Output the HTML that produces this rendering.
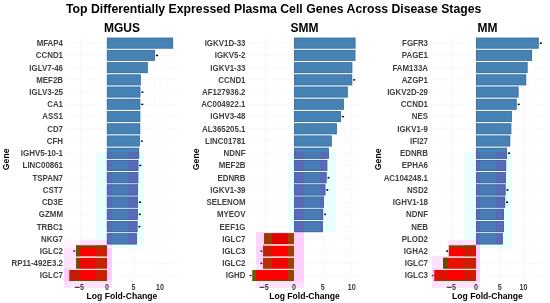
<!DOCTYPE html><html><head><meta charset="utf-8"><style>html,body{margin:0;padding:0;background:#fff;overflow:hidden}svg{display:block;filter:blur(0.3px)}text{font-family:"Liberation Sans",Arial,sans-serif}</style></head><body>
<svg width="550" height="303" viewBox="0 0 550 303">
<rect width="550" height="303" fill="#fff"/>
<text transform="translate(273.7 13)" font-size="12.25" font-weight="bold" text-anchor="middle" fill="#000">Top Differentially Expressed Plasma Cell Genes Across Disease Stages</text>
<line x1="67.15" y1="35.81" x2="67.15" y2="282.86" stroke="#fbfbfb" stroke-width="0.6"/>
<line x1="93.65" y1="35.81" x2="93.65" y2="282.86" stroke="#fbfbfb" stroke-width="0.6"/>
<line x1="120.15" y1="35.81" x2="120.15" y2="282.86" stroke="#fbfbfb" stroke-width="0.6"/>
<line x1="146.65" y1="35.81" x2="146.65" y2="282.86" stroke="#fbfbfb" stroke-width="0.6"/>
<line x1="173.15" y1="35.81" x2="173.15" y2="282.86" stroke="#fbfbfb" stroke-width="0.6"/>
<line x1="80.4" y1="35.81" x2="80.4" y2="282.86" stroke="#f8f8f8" stroke-width="1"/>
<line x1="106.9" y1="35.81" x2="106.9" y2="282.86" stroke="#f8f8f8" stroke-width="1"/>
<line x1="133.4" y1="35.81" x2="133.4" y2="282.86" stroke="#f8f8f8" stroke-width="1"/>
<line x1="159.9" y1="35.81" x2="159.9" y2="282.86" stroke="#f8f8f8" stroke-width="1"/>
<line x1="65.5" y1="43.15" x2="178.3" y2="43.15" stroke="#f8f8f8" stroke-width="1"/>
<line x1="65.5" y1="55.38" x2="178.3" y2="55.38" stroke="#f8f8f8" stroke-width="1"/>
<line x1="65.5" y1="67.61" x2="178.3" y2="67.61" stroke="#f8f8f8" stroke-width="1"/>
<line x1="65.5" y1="79.84" x2="178.3" y2="79.84" stroke="#f8f8f8" stroke-width="1"/>
<line x1="65.5" y1="92.07" x2="178.3" y2="92.07" stroke="#f8f8f8" stroke-width="1"/>
<line x1="65.5" y1="104.3" x2="178.3" y2="104.3" stroke="#f8f8f8" stroke-width="1"/>
<line x1="65.5" y1="116.53" x2="178.3" y2="116.53" stroke="#f8f8f8" stroke-width="1"/>
<line x1="65.5" y1="128.76" x2="178.3" y2="128.76" stroke="#f8f8f8" stroke-width="1"/>
<line x1="65.5" y1="140.99" x2="178.3" y2="140.99" stroke="#f8f8f8" stroke-width="1"/>
<line x1="65.5" y1="153.22" x2="178.3" y2="153.22" stroke="#f8f8f8" stroke-width="1"/>
<line x1="65.5" y1="165.45" x2="178.3" y2="165.45" stroke="#f8f8f8" stroke-width="1"/>
<line x1="65.5" y1="177.68" x2="178.3" y2="177.68" stroke="#f8f8f8" stroke-width="1"/>
<line x1="65.5" y1="189.91" x2="178.3" y2="189.91" stroke="#f8f8f8" stroke-width="1"/>
<line x1="65.5" y1="202.14" x2="178.3" y2="202.14" stroke="#f8f8f8" stroke-width="1"/>
<line x1="65.5" y1="214.37" x2="178.3" y2="214.37" stroke="#f8f8f8" stroke-width="1"/>
<line x1="65.5" y1="226.6" x2="178.3" y2="226.6" stroke="#f8f8f8" stroke-width="1"/>
<line x1="65.5" y1="238.83" x2="178.3" y2="238.83" stroke="#f8f8f8" stroke-width="1"/>
<line x1="65.5" y1="251.06" x2="178.3" y2="251.06" stroke="#f8f8f8" stroke-width="1"/>
<line x1="65.5" y1="263.29" x2="178.3" y2="263.29" stroke="#f8f8f8" stroke-width="1"/>
<line x1="65.5" y1="275.52" x2="178.3" y2="275.52" stroke="#f8f8f8" stroke-width="1"/>
<rect x="96" y="152" width="48" height="88" fill="#e9ffff"/>
<rect x="112" y="240" width="32" height="8" fill="#ecffff"/>
<rect x="80" y="240" width="32" height="8" fill="#ffe0ff"/>
<rect x="64" y="240" width="16" height="8" fill="#fff4ff"/>
<rect x="64" y="248" width="48" height="40" fill="#ffe2ff"/>
<rect x="107" y="248" width="5" height="34" fill="#ffccff"/>
<rect x="64" y="268" width="6" height="14" fill="#ffccff"/>
<rect x="106.9" y="37.65" width="66.2" height="11" fill="#4682b4"/>
<rect x="107.3" y="38.05" width="65.4" height="10.2" fill="none" stroke="#1f4f7f" stroke-opacity="0.3" stroke-width="0.8"/>
<text transform="translate(63 46.05) scale(0.92 1)" font-size="8.6" font-weight="bold" text-anchor="end" fill="#404040">MFAP4</text>
<rect x="106.9" y="49.88" width="48.1" height="11" fill="#4682b4"/>
<ellipse cx="157" cy="55.38" rx="1.1" ry="0.85" fill="#000"/>
<rect x="107.3" y="50.28" width="47.3" height="10.2" fill="none" stroke="#1f4f7f" stroke-opacity="0.3" stroke-width="0.8"/>
<text transform="translate(63 58.28) scale(0.92 1)" font-size="8.6" font-weight="bold" text-anchor="end" fill="#404040">CCND1</text>
<rect x="106.9" y="62.11" width="40.9" height="11" fill="#4682b4"/>
<rect x="107.3" y="62.51" width="40.1" height="10.2" fill="none" stroke="#1f4f7f" stroke-opacity="0.3" stroke-width="0.8"/>
<text transform="translate(63 70.51) scale(0.92 1)" font-size="8.6" font-weight="bold" text-anchor="end" fill="#404040">IGLV7-46</text>
<rect x="106.9" y="74.34" width="33.9" height="11" fill="#4682b4"/>
<rect x="107.3" y="74.74" width="33.1" height="10.2" fill="none" stroke="#1f4f7f" stroke-opacity="0.3" stroke-width="0.8"/>
<text transform="translate(63 82.74) scale(0.92 1)" font-size="8.6" font-weight="bold" text-anchor="end" fill="#404040">MEF2B</text>
<rect x="106.9" y="86.57" width="33.5" height="11" fill="#4682b4"/>
<ellipse cx="142.4" cy="92.07" rx="1.1" ry="0.85" fill="#000"/>
<rect x="107.3" y="86.97" width="32.7" height="10.2" fill="none" stroke="#1f4f7f" stroke-opacity="0.3" stroke-width="0.8"/>
<text transform="translate(63 94.97) scale(0.92 1)" font-size="8.6" font-weight="bold" text-anchor="end" fill="#404040">IGLV3-25</text>
<rect x="106.9" y="98.8" width="33.4" height="11" fill="#4682b4"/>
<ellipse cx="142.3" cy="104.3" rx="1.1" ry="0.85" fill="#000"/>
<rect x="107.3" y="99.2" width="32.6" height="10.2" fill="none" stroke="#1f4f7f" stroke-opacity="0.3" stroke-width="0.8"/>
<text transform="translate(63 107.2) scale(0.92 1)" font-size="8.6" font-weight="bold" text-anchor="end" fill="#404040">CA1</text>
<rect x="106.9" y="111.03" width="33.4" height="11" fill="#4682b4"/>
<rect x="107.3" y="111.43" width="32.6" height="10.2" fill="none" stroke="#1f4f7f" stroke-opacity="0.3" stroke-width="0.8"/>
<text transform="translate(63 119.43) scale(0.92 1)" font-size="8.6" font-weight="bold" text-anchor="end" fill="#404040">ASS1</text>
<rect x="106.9" y="123.26" width="33.3" height="11" fill="#4682b4"/>
<rect x="107.3" y="123.66" width="32.5" height="10.2" fill="none" stroke="#1f4f7f" stroke-opacity="0.3" stroke-width="0.8"/>
<text transform="translate(63 131.66) scale(0.92 1)" font-size="8.6" font-weight="bold" text-anchor="end" fill="#404040">CD7</text>
<rect x="106.9" y="135.49" width="33" height="11" fill="#4682b4"/>
<ellipse cx="141.9" cy="140.99" rx="1.1" ry="0.85" fill="#000"/>
<rect x="107.3" y="135.89" width="32.2" height="10.2" fill="none" stroke="#1f4f7f" stroke-opacity="0.3" stroke-width="0.8"/>
<text transform="translate(63 143.89) scale(0.92 1)" font-size="8.6" font-weight="bold" text-anchor="end" fill="#404040">CFH</text>
<rect x="106.9" y="147.72" width="32.2" height="11" fill="#4682b4"/>
<rect x="106.9" y="152" width="5.1" height="6.72" fill="#586ab8"/>
<rect x="128" y="152" width="11.1" height="6.72" fill="#586ab8"/>
<rect x="112" y="152" width="16" height="6.72" fill="#4a7bb6"/>
<rect x="107.3" y="148.12" width="31.4" height="10.2" fill="none" stroke="#1f4f7f" stroke-opacity="0.3" stroke-width="0.8"/>
<text transform="translate(63 156.12) scale(0.92 1)" font-size="8.6" font-weight="bold" text-anchor="end" fill="#404040">IGHV5-10-1</text>
<rect x="106.9" y="159.95" width="31.4" height="11" fill="#4682b4"/>
<ellipse cx="140.3" cy="165.45" rx="1.1" ry="0.85" fill="#000"/>
<rect x="106.9" y="159.95" width="5.1" height="11" fill="#586ab8"/>
<rect x="128" y="159.95" width="10.3" height="11" fill="#586ab8"/>
<rect x="112" y="159.95" width="16" height="11" fill="#4a7bb6"/>
<rect x="107.3" y="160.35" width="30.6" height="10.2" fill="none" stroke="#1f4f7f" stroke-opacity="0.3" stroke-width="0.8"/>
<text transform="translate(63 168.35) scale(0.92 1)" font-size="8.6" font-weight="bold" text-anchor="end" fill="#404040">LINC00861</text>
<rect x="106.9" y="172.18" width="31.3" height="11" fill="#4682b4"/>
<rect x="106.9" y="172.18" width="5.1" height="11" fill="#586ab8"/>
<rect x="128" y="172.18" width="10.2" height="11" fill="#586ab8"/>
<rect x="112" y="172.18" width="16" height="11" fill="#4a7bb6"/>
<rect x="107.3" y="172.58" width="30.5" height="10.2" fill="none" stroke="#1f4f7f" stroke-opacity="0.3" stroke-width="0.8"/>
<text transform="translate(63 180.58) scale(0.92 1)" font-size="8.6" font-weight="bold" text-anchor="end" fill="#404040">TSPAN7</text>
<rect x="106.9" y="184.41" width="31" height="11" fill="#4682b4"/>
<rect x="106.9" y="184.41" width="5.1" height="11" fill="#586ab8"/>
<rect x="128" y="184.41" width="9.9" height="11" fill="#586ab8"/>
<rect x="112" y="184.41" width="16" height="11" fill="#4a7bb6"/>
<rect x="107.3" y="184.81" width="30.2" height="10.2" fill="none" stroke="#1f4f7f" stroke-opacity="0.3" stroke-width="0.8"/>
<text transform="translate(63 192.81) scale(0.92 1)" font-size="8.6" font-weight="bold" text-anchor="end" fill="#404040">CST7</text>
<rect x="106.9" y="196.64" width="31" height="11" fill="#4682b4"/>
<ellipse cx="139.9" cy="202.14" rx="1.1" ry="0.85" fill="#000"/>
<rect x="106.9" y="196.64" width="5.1" height="11" fill="#586ab8"/>
<rect x="128" y="196.64" width="9.9" height="11" fill="#586ab8"/>
<rect x="112" y="196.64" width="16" height="11" fill="#4a7bb6"/>
<rect x="107.3" y="197.04" width="30.2" height="10.2" fill="none" stroke="#1f4f7f" stroke-opacity="0.3" stroke-width="0.8"/>
<text transform="translate(63 205.04) scale(0.92 1)" font-size="8.6" font-weight="bold" text-anchor="end" fill="#404040">CD3E</text>
<rect x="106.9" y="208.87" width="30.9" height="11" fill="#4682b4"/>
<ellipse cx="139.8" cy="214.37" rx="1.1" ry="0.85" fill="#000"/>
<rect x="106.9" y="208.87" width="5.1" height="11" fill="#586ab8"/>
<rect x="128" y="208.87" width="9.8" height="11" fill="#586ab8"/>
<rect x="112" y="208.87" width="16" height="11" fill="#4a7bb6"/>
<rect x="107.3" y="209.27" width="30.1" height="10.2" fill="none" stroke="#1f4f7f" stroke-opacity="0.3" stroke-width="0.8"/>
<text transform="translate(63 217.27) scale(0.92 1)" font-size="8.6" font-weight="bold" text-anchor="end" fill="#404040">GZMM</text>
<rect x="106.9" y="221.1" width="30.5" height="11" fill="#4682b4"/>
<ellipse cx="139.4" cy="226.6" rx="1.1" ry="0.85" fill="#000"/>
<rect x="106.9" y="221.1" width="5.1" height="11" fill="#586ab8"/>
<rect x="128" y="221.1" width="9.4" height="11" fill="#586ab8"/>
<rect x="112" y="221.1" width="16" height="11" fill="#4a7bb6"/>
<rect x="107.3" y="221.5" width="29.7" height="10.2" fill="none" stroke="#1f4f7f" stroke-opacity="0.3" stroke-width="0.8"/>
<text transform="translate(63 229.5) scale(0.92 1)" font-size="8.6" font-weight="bold" text-anchor="end" fill="#404040">TRBC1</text>
<rect x="106.9" y="233.33" width="30" height="11" fill="#4682b4"/>
<rect x="106.9" y="233.33" width="5.1" height="11" fill="#586ab8"/>
<rect x="128" y="233.33" width="8.9" height="11" fill="#586ab8"/>
<rect x="112" y="233.33" width="16" height="11" fill="#4a7bb6"/>
<rect x="107.3" y="233.73" width="29.2" height="10.2" fill="none" stroke="#1f4f7f" stroke-opacity="0.3" stroke-width="0.8"/>
<text transform="translate(63 241.73) scale(0.92 1)" font-size="8.6" font-weight="bold" text-anchor="end" fill="#404040">NKG7</text>
<rect x="76" y="245.56" width="30.9" height="11" fill="#ff0000"/>
<ellipse cx="74.2" cy="251.06" rx="1.1" ry="0.85" fill="#5a0030"/>
<rect x="76" y="245.56" width="4" height="11" fill="#6f4c00"/>
<rect x="96" y="245.56" width="10.9" height="11" fill="#cc2000"/>
<rect x="76" y="245.56" width="30.9" height="2.04" fill="#6f4c00"/>
<text transform="translate(63 253.96) scale(0.92 1)" font-size="8.6" font-weight="bold" text-anchor="end" fill="#404040">IGLC2</text>
<rect x="76.3" y="257.79" width="30.6" height="11" fill="#ff0000"/>
<rect x="76.3" y="257.79" width="3.7" height="11" fill="#7a4400"/>
<rect x="80" y="257.79" width="16" height="11" fill="#ee0800"/>
<rect x="96" y="257.79" width="10.9" height="11" fill="#c42400"/>
<text transform="translate(63 266.19) scale(0.92 1)" font-size="8.6" font-weight="bold" text-anchor="end" fill="#404040">RP11-492E3.2</text>
<rect x="69.5" y="270.02" width="37.4" height="11" fill="#ff0000"/>
<rect x="69.5" y="270.02" width="10.5" height="11" fill="#c41c00"/>
<rect x="96" y="270.02" width="10.9" height="11" fill="#c82000"/>
<rect x="69.5" y="280" width="37.4" height="1.02" fill="#705000"/>
<text transform="translate(63 278.42) scale(0.92 1)" font-size="8.6" font-weight="bold" text-anchor="end" fill="#404040">IGLC7</text>
<rect x="76.3" y="256.56" width="30.6" height="1.23" fill="#ffe6dc"/>
<rect x="76.3" y="268.79" width="30.6" height="1.23" fill="#ffe6dc"/>
<text transform="translate(79.3 290) scale(0.86 1)" font-size="8.3" font-weight="bold" text-anchor="middle" fill="#3c3c3c"><tspan font-size="11.0" dy="0.8">−</tspan><tspan dy="-0.8">5</tspan></text>
<text transform="translate(106.9 290) scale(0.86 1)" font-size="8.3" font-weight="bold" text-anchor="middle" fill="#3c3c3c">0</text>
<text transform="translate(133.4 290) scale(0.86 1)" font-size="8.3" font-weight="bold" text-anchor="middle" fill="#3c3c3c">5</text>
<text transform="translate(159.9 290) scale(0.86 1)" font-size="8.3" font-weight="bold" text-anchor="middle" fill="#3c3c3c">10</text>
<text transform="translate(121.9 298.8)" font-size="8.6" font-weight="bold" text-anchor="middle" fill="#000">Log Fold-Change</text>
<text transform="translate(121.9 32.3)" font-size="12" font-weight="bold" text-anchor="middle" fill="#000">MGUS</text>
<text transform="translate(9.2 159.34) rotate(-90)" font-size="8.7" font-weight="bold" text-anchor="middle" fill="#000">Gene</text>
<line x1="250.72" y1="35.81" x2="250.72" y2="282.86" stroke="#fbfbfb" stroke-width="0.6"/>
<line x1="279.57" y1="35.81" x2="279.57" y2="282.86" stroke="#fbfbfb" stroke-width="0.6"/>
<line x1="308.43" y1="35.81" x2="308.43" y2="282.86" stroke="#fbfbfb" stroke-width="0.6"/>
<line x1="337.27" y1="35.81" x2="337.27" y2="282.86" stroke="#fbfbfb" stroke-width="0.6"/>
<line x1="265.15" y1="35.81" x2="265.15" y2="282.86" stroke="#f8f8f8" stroke-width="1"/>
<line x1="294" y1="35.81" x2="294" y2="282.86" stroke="#f8f8f8" stroke-width="1"/>
<line x1="322.85" y1="35.81" x2="322.85" y2="282.86" stroke="#f8f8f8" stroke-width="1"/>
<line x1="351.7" y1="35.81" x2="351.7" y2="282.86" stroke="#f8f8f8" stroke-width="1"/>
<line x1="247.5" y1="43.15" x2="361.5" y2="43.15" stroke="#f8f8f8" stroke-width="1"/>
<line x1="247.5" y1="55.38" x2="361.5" y2="55.38" stroke="#f8f8f8" stroke-width="1"/>
<line x1="247.5" y1="67.61" x2="361.5" y2="67.61" stroke="#f8f8f8" stroke-width="1"/>
<line x1="247.5" y1="79.84" x2="361.5" y2="79.84" stroke="#f8f8f8" stroke-width="1"/>
<line x1="247.5" y1="92.07" x2="361.5" y2="92.07" stroke="#f8f8f8" stroke-width="1"/>
<line x1="247.5" y1="104.3" x2="361.5" y2="104.3" stroke="#f8f8f8" stroke-width="1"/>
<line x1="247.5" y1="116.53" x2="361.5" y2="116.53" stroke="#f8f8f8" stroke-width="1"/>
<line x1="247.5" y1="128.76" x2="361.5" y2="128.76" stroke="#f8f8f8" stroke-width="1"/>
<line x1="247.5" y1="140.99" x2="361.5" y2="140.99" stroke="#f8f8f8" stroke-width="1"/>
<line x1="247.5" y1="153.22" x2="361.5" y2="153.22" stroke="#f8f8f8" stroke-width="1"/>
<line x1="247.5" y1="165.45" x2="361.5" y2="165.45" stroke="#f8f8f8" stroke-width="1"/>
<line x1="247.5" y1="177.68" x2="361.5" y2="177.68" stroke="#f8f8f8" stroke-width="1"/>
<line x1="247.5" y1="189.91" x2="361.5" y2="189.91" stroke="#f8f8f8" stroke-width="1"/>
<line x1="247.5" y1="202.14" x2="361.5" y2="202.14" stroke="#f8f8f8" stroke-width="1"/>
<line x1="247.5" y1="214.37" x2="361.5" y2="214.37" stroke="#f8f8f8" stroke-width="1"/>
<line x1="247.5" y1="226.6" x2="361.5" y2="226.6" stroke="#f8f8f8" stroke-width="1"/>
<line x1="247.5" y1="238.83" x2="361.5" y2="238.83" stroke="#f8f8f8" stroke-width="1"/>
<line x1="247.5" y1="251.06" x2="361.5" y2="251.06" stroke="#f8f8f8" stroke-width="1"/>
<line x1="247.5" y1="263.29" x2="361.5" y2="263.29" stroke="#f8f8f8" stroke-width="1"/>
<line x1="247.5" y1="275.52" x2="361.5" y2="275.52" stroke="#f8f8f8" stroke-width="1"/>
<rect x="288" y="152" width="48" height="80" fill="#e9ffff"/>
<rect x="256" y="232" width="48" height="56" fill="#ffe2ff"/>
<rect x="294" y="232" width="10" height="50" fill="#ffd0ff"/>
<rect x="256" y="232" width="8" height="32" fill="#ffd4ff"/>
<rect x="294" y="37.65" width="61.5" height="11" fill="#4682b4"/>
<rect x="294.4" y="38.05" width="60.7" height="10.2" fill="none" stroke="#1f4f7f" stroke-opacity="0.3" stroke-width="0.8"/>
<text transform="translate(245.5 46.05) scale(0.92 1)" font-size="8.6" font-weight="bold" text-anchor="end" fill="#404040">IGKV1D-33</text>
<rect x="294" y="49.88" width="61.4" height="11" fill="#4682b4"/>
<rect x="294.4" y="50.28" width="60.6" height="10.2" fill="none" stroke="#1f4f7f" stroke-opacity="0.3" stroke-width="0.8"/>
<text transform="translate(245.5 58.28) scale(0.92 1)" font-size="8.6" font-weight="bold" text-anchor="end" fill="#404040">IGKV5-2</text>
<rect x="294" y="62.11" width="58.3" height="11" fill="#4682b4"/>
<rect x="294.4" y="62.51" width="57.5" height="10.2" fill="none" stroke="#1f4f7f" stroke-opacity="0.3" stroke-width="0.8"/>
<text transform="translate(245.5 70.51) scale(0.92 1)" font-size="8.6" font-weight="bold" text-anchor="end" fill="#404040">IGKV1-33</text>
<rect x="294" y="74.34" width="58.2" height="11" fill="#4682b4"/>
<ellipse cx="354.2" cy="79.84" rx="1.1" ry="0.85" fill="#000"/>
<rect x="294.4" y="74.74" width="57.4" height="10.2" fill="none" stroke="#1f4f7f" stroke-opacity="0.3" stroke-width="0.8"/>
<text transform="translate(245.5 82.74) scale(0.92 1)" font-size="8.6" font-weight="bold" text-anchor="end" fill="#404040">CCND1</text>
<rect x="294" y="86.57" width="53.8" height="11" fill="#4682b4"/>
<rect x="294.4" y="86.97" width="53" height="10.2" fill="none" stroke="#1f4f7f" stroke-opacity="0.3" stroke-width="0.8"/>
<text transform="translate(245.5 94.97) scale(0.92 1)" font-size="8.6" font-weight="bold" text-anchor="end" fill="#404040">AF127936.2</text>
<rect x="294" y="98.8" width="49.9" height="11" fill="#4682b4"/>
<rect x="294.4" y="99.2" width="49.1" height="10.2" fill="none" stroke="#1f4f7f" stroke-opacity="0.3" stroke-width="0.8"/>
<text transform="translate(245.5 107.2) scale(0.92 1)" font-size="8.6" font-weight="bold" text-anchor="end" fill="#404040">AC004922.1</text>
<rect x="294" y="111.03" width="47" height="11" fill="#4682b4"/>
<ellipse cx="343" cy="116.53" rx="1.1" ry="0.85" fill="#000"/>
<rect x="294.4" y="111.43" width="46.2" height="10.2" fill="none" stroke="#1f4f7f" stroke-opacity="0.3" stroke-width="0.8"/>
<text transform="translate(245.5 119.43) scale(0.92 1)" font-size="8.6" font-weight="bold" text-anchor="end" fill="#404040">IGHV3-48</text>
<rect x="294" y="123.26" width="42.9" height="11" fill="#4682b4"/>
<rect x="294.4" y="123.66" width="42.1" height="10.2" fill="none" stroke="#1f4f7f" stroke-opacity="0.3" stroke-width="0.8"/>
<text transform="translate(245.5 131.66) scale(0.92 1)" font-size="8.6" font-weight="bold" text-anchor="end" fill="#404040">AL365205.1</text>
<rect x="294" y="135.49" width="37.8" height="11" fill="#4682b4"/>
<rect x="294.4" y="135.89" width="37" height="10.2" fill="none" stroke="#1f4f7f" stroke-opacity="0.3" stroke-width="0.8"/>
<text transform="translate(245.5 143.89) scale(0.92 1)" font-size="8.6" font-weight="bold" text-anchor="end" fill="#404040">LINC01781</text>
<rect x="294" y="147.72" width="34.9" height="11" fill="#4682b4"/>
<rect x="294" y="152" width="10" height="6.72" fill="#586ab8"/>
<rect x="320" y="152" width="8.9" height="6.72" fill="#586ab8"/>
<rect x="304" y="152" width="16" height="6.72" fill="#4a7bb6"/>
<rect x="294.4" y="148.12" width="34.1" height="10.2" fill="none" stroke="#1f4f7f" stroke-opacity="0.3" stroke-width="0.8"/>
<text transform="translate(245.5 156.12) scale(0.92 1)" font-size="8.6" font-weight="bold" text-anchor="end" fill="#404040">NDNF</text>
<rect x="294" y="159.95" width="33.2" height="11" fill="#4682b4"/>
<rect x="294" y="159.95" width="10" height="11" fill="#586ab8"/>
<rect x="320" y="159.95" width="7.2" height="11" fill="#586ab8"/>
<rect x="304" y="159.95" width="16" height="11" fill="#4a7bb6"/>
<rect x="294.4" y="160.35" width="32.4" height="10.2" fill="none" stroke="#1f4f7f" stroke-opacity="0.3" stroke-width="0.8"/>
<text transform="translate(245.5 168.35) scale(0.92 1)" font-size="8.6" font-weight="bold" text-anchor="end" fill="#404040">MEF2B</text>
<rect x="294" y="172.18" width="32.5" height="11" fill="#4682b4"/>
<ellipse cx="328.5" cy="177.68" rx="1.1" ry="0.85" fill="#000"/>
<rect x="294" y="172.18" width="10" height="11" fill="#586ab8"/>
<rect x="320" y="172.18" width="6.5" height="11" fill="#586ab8"/>
<rect x="304" y="172.18" width="16" height="11" fill="#4a7bb6"/>
<rect x="294.4" y="172.58" width="31.7" height="10.2" fill="none" stroke="#1f4f7f" stroke-opacity="0.3" stroke-width="0.8"/>
<text transform="translate(245.5 180.58) scale(0.92 1)" font-size="8.6" font-weight="bold" text-anchor="end" fill="#404040">EDNRB</text>
<rect x="294" y="184.41" width="31.3" height="11" fill="#4682b4"/>
<ellipse cx="327.3" cy="189.91" rx="1.1" ry="0.85" fill="#000"/>
<rect x="294" y="184.41" width="10" height="11" fill="#586ab8"/>
<rect x="320" y="184.41" width="5.3" height="11" fill="#586ab8"/>
<rect x="304" y="184.41" width="16" height="11" fill="#4a7bb6"/>
<rect x="294.4" y="184.81" width="30.5" height="10.2" fill="none" stroke="#1f4f7f" stroke-opacity="0.3" stroke-width="0.8"/>
<text transform="translate(245.5 192.81) scale(0.92 1)" font-size="8.6" font-weight="bold" text-anchor="end" fill="#404040">IGKV1-39</text>
<rect x="294" y="196.64" width="30" height="11" fill="#4682b4"/>
<rect x="294" y="196.64" width="10" height="11" fill="#586ab8"/>
<rect x="320" y="196.64" width="4" height="11" fill="#586ab8"/>
<rect x="304" y="196.64" width="16" height="11" fill="#4a7bb6"/>
<rect x="294.4" y="197.04" width="29.2" height="10.2" fill="none" stroke="#1f4f7f" stroke-opacity="0.3" stroke-width="0.8"/>
<text transform="translate(245.5 205.04) scale(0.92 1)" font-size="8.6" font-weight="bold" text-anchor="end" fill="#404040">SELENOM</text>
<rect x="294" y="208.87" width="29.1" height="11" fill="#4682b4"/>
<ellipse cx="325.1" cy="214.37" rx="1.1" ry="0.85" fill="#000"/>
<rect x="294" y="208.87" width="10" height="11" fill="#586ab8"/>
<rect x="320" y="208.87" width="3.1" height="11" fill="#586ab8"/>
<rect x="304" y="208.87" width="16" height="11" fill="#4a7bb6"/>
<rect x="294.4" y="209.27" width="28.3" height="10.2" fill="none" stroke="#1f4f7f" stroke-opacity="0.3" stroke-width="0.8"/>
<text transform="translate(245.5 217.27) scale(0.92 1)" font-size="8.6" font-weight="bold" text-anchor="end" fill="#404040">MYEOV</text>
<rect x="294" y="221.1" width="28.8" height="11" fill="#4682b4"/>
<rect x="294" y="221.1" width="10" height="11" fill="#586ab8"/>
<rect x="320" y="221.1" width="2.8" height="11" fill="#586ab8"/>
<rect x="304" y="221.1" width="16" height="11" fill="#4a7bb6"/>
<rect x="294.4" y="221.5" width="28" height="10.2" fill="none" stroke="#1f4f7f" stroke-opacity="0.3" stroke-width="0.8"/>
<text transform="translate(245.5 229.5) scale(0.92 1)" font-size="8.6" font-weight="bold" text-anchor="end" fill="#404040">EEF1G</text>
<rect x="264.2" y="233.33" width="29.8" height="11" fill="#ff0000"/>
<rect x="264.2" y="233.33" width="7.8" height="11" fill="#9a3a00"/>
<rect x="272" y="233.33" width="16" height="11" fill="#e00400"/>
<rect x="288" y="233.33" width="6" height="11" fill="#9a4000"/>
<text transform="translate(245.5 241.73) scale(0.92 1)" font-size="8.6" font-weight="bold" text-anchor="end" fill="#404040">IGLC7</text>
<rect x="263.2" y="245.56" width="30.8" height="11" fill="#ff0000"/>
<ellipse cx="261.4" cy="251.06" rx="1.1" ry="0.85" fill="#5a0030"/>
<rect x="263.2" y="245.56" width="8.8" height="11" fill="#c02000"/>
<rect x="288" y="245.56" width="6" height="11" fill="#a04000"/>
<text transform="translate(245.5 253.96) scale(0.92 1)" font-size="8.6" font-weight="bold" text-anchor="end" fill="#404040">IGLC3</text>
<rect x="263.2" y="257.79" width="30.8" height="11" fill="#ff0000"/>
<ellipse cx="261.4" cy="263.29" rx="1.1" ry="0.85" fill="#5a0030"/>
<rect x="263.2" y="257.79" width="8.8" height="11" fill="#b83000"/>
<rect x="272" y="257.79" width="16" height="11" fill="#f40000"/>
<rect x="288" y="257.79" width="6" height="11" fill="#a04000"/>
<text transform="translate(245.5 266.19) scale(0.92 1)" font-size="8.6" font-weight="bold" text-anchor="end" fill="#404040">IGLC2</text>
<rect x="252.5" y="270.02" width="41.5" height="11" fill="#ff0000"/>
<ellipse cx="250.7" cy="275.52" rx="1.1" ry="0.85" fill="#5a0030"/>
<rect x="252.5" y="270.02" width="3.5" height="11" fill="#606000"/>
<rect x="288" y="270.02" width="6" height="11" fill="#9a4000"/>
<rect x="252.5" y="279.9" width="41.5" height="1.12" fill="#705000"/>
<text transform="translate(245.5 278.42) scale(0.92 1)" font-size="8.6" font-weight="bold" text-anchor="end" fill="#404040">IGHD</text>
<rect x="264.2" y="244.33" width="29.8" height="1.23" fill="#ffe6dc"/>
<rect x="263.2" y="256.56" width="30.8" height="1.23" fill="#ffe6dc"/>
<rect x="263.2" y="268.79" width="30.8" height="1.23" fill="#ffe6dc"/>
<text transform="translate(264.05 290) scale(0.86 1)" font-size="8.3" font-weight="bold" text-anchor="middle" fill="#3c3c3c"><tspan font-size="11.0" dy="0.8">−</tspan><tspan dy="-0.8">5</tspan></text>
<text transform="translate(294 290) scale(0.86 1)" font-size="8.3" font-weight="bold" text-anchor="middle" fill="#3c3c3c">0</text>
<text transform="translate(322.85 290) scale(0.86 1)" font-size="8.3" font-weight="bold" text-anchor="middle" fill="#3c3c3c">5</text>
<text transform="translate(351.7 290) scale(0.86 1)" font-size="8.3" font-weight="bold" text-anchor="middle" fill="#3c3c3c">10</text>
<text transform="translate(304.5 298.8)" font-size="8.6" font-weight="bold" text-anchor="middle" fill="#000">Log Fold-Change</text>
<text transform="translate(304.5 32.3)" font-size="12" font-weight="bold" text-anchor="middle" fill="#000">SMM</text>
<text transform="translate(198.6 159.34) rotate(-90)" font-size="8.7" font-weight="bold" text-anchor="middle" fill="#000">Gene</text>
<line x1="440.38" y1="35.81" x2="440.38" y2="282.86" stroke="#fbfbfb" stroke-width="0.6"/>
<line x1="464.12" y1="35.81" x2="464.12" y2="282.86" stroke="#fbfbfb" stroke-width="0.6"/>
<line x1="487.88" y1="35.81" x2="487.88" y2="282.86" stroke="#fbfbfb" stroke-width="0.6"/>
<line x1="511.62" y1="35.81" x2="511.62" y2="282.86" stroke="#fbfbfb" stroke-width="0.6"/>
<line x1="535.38" y1="35.81" x2="535.38" y2="282.86" stroke="#fbfbfb" stroke-width="0.6"/>
<line x1="452.25" y1="35.81" x2="452.25" y2="282.86" stroke="#f8f8f8" stroke-width="1"/>
<line x1="476" y1="35.81" x2="476" y2="282.86" stroke="#f8f8f8" stroke-width="1"/>
<line x1="499.75" y1="35.81" x2="499.75" y2="282.86" stroke="#f8f8f8" stroke-width="1"/>
<line x1="523.5" y1="35.81" x2="523.5" y2="282.86" stroke="#f8f8f8" stroke-width="1"/>
<line x1="430.5" y1="43.15" x2="544.3" y2="43.15" stroke="#f8f8f8" stroke-width="1"/>
<line x1="430.5" y1="55.38" x2="544.3" y2="55.38" stroke="#f8f8f8" stroke-width="1"/>
<line x1="430.5" y1="67.61" x2="544.3" y2="67.61" stroke="#f8f8f8" stroke-width="1"/>
<line x1="430.5" y1="79.84" x2="544.3" y2="79.84" stroke="#f8f8f8" stroke-width="1"/>
<line x1="430.5" y1="92.07" x2="544.3" y2="92.07" stroke="#f8f8f8" stroke-width="1"/>
<line x1="430.5" y1="104.3" x2="544.3" y2="104.3" stroke="#f8f8f8" stroke-width="1"/>
<line x1="430.5" y1="116.53" x2="544.3" y2="116.53" stroke="#f8f8f8" stroke-width="1"/>
<line x1="430.5" y1="128.76" x2="544.3" y2="128.76" stroke="#f8f8f8" stroke-width="1"/>
<line x1="430.5" y1="140.99" x2="544.3" y2="140.99" stroke="#f8f8f8" stroke-width="1"/>
<line x1="430.5" y1="153.22" x2="544.3" y2="153.22" stroke="#f8f8f8" stroke-width="1"/>
<line x1="430.5" y1="165.45" x2="544.3" y2="165.45" stroke="#f8f8f8" stroke-width="1"/>
<line x1="430.5" y1="177.68" x2="544.3" y2="177.68" stroke="#f8f8f8" stroke-width="1"/>
<line x1="430.5" y1="189.91" x2="544.3" y2="189.91" stroke="#f8f8f8" stroke-width="1"/>
<line x1="430.5" y1="202.14" x2="544.3" y2="202.14" stroke="#f8f8f8" stroke-width="1"/>
<line x1="430.5" y1="214.37" x2="544.3" y2="214.37" stroke="#f8f8f8" stroke-width="1"/>
<line x1="430.5" y1="226.6" x2="544.3" y2="226.6" stroke="#f8f8f8" stroke-width="1"/>
<line x1="430.5" y1="238.83" x2="544.3" y2="238.83" stroke="#f8f8f8" stroke-width="1"/>
<line x1="430.5" y1="251.06" x2="544.3" y2="251.06" stroke="#f8f8f8" stroke-width="1"/>
<line x1="430.5" y1="263.29" x2="544.3" y2="263.29" stroke="#f8f8f8" stroke-width="1"/>
<line x1="430.5" y1="275.52" x2="544.3" y2="275.52" stroke="#f8f8f8" stroke-width="1"/>
<rect x="464" y="152" width="48" height="88" fill="#e9ffff"/>
<rect x="480" y="240" width="32" height="8" fill="#ecffff"/>
<rect x="448" y="240" width="32" height="16" fill="#ffe2ff"/>
<rect x="432" y="256" width="48" height="32" fill="#ffe2ff"/>
<rect x="476" y="244" width="4" height="38" fill="#ffccff"/>
<rect x="432" y="268" width="4" height="14" fill="#ffd0ff"/>
<rect x="476" y="37.65" width="62.8" height="11" fill="#4682b4"/>
<ellipse cx="540.8" cy="43.15" rx="1.1" ry="0.85" fill="#000"/>
<rect x="476.4" y="38.05" width="62" height="10.2" fill="none" stroke="#1f4f7f" stroke-opacity="0.3" stroke-width="0.8"/>
<text transform="translate(428 46.05) scale(0.92 1)" font-size="8.6" font-weight="bold" text-anchor="end" fill="#404040">FGFR3</text>
<rect x="476" y="49.88" width="56" height="11" fill="#4682b4"/>
<rect x="476.4" y="50.28" width="55.2" height="10.2" fill="none" stroke="#1f4f7f" stroke-opacity="0.3" stroke-width="0.8"/>
<text transform="translate(428 58.28) scale(0.92 1)" font-size="8.6" font-weight="bold" text-anchor="end" fill="#404040">PAGE1</text>
<rect x="476" y="62.11" width="51.6" height="11" fill="#4682b4"/>
<rect x="476.4" y="62.51" width="50.8" height="10.2" fill="none" stroke="#1f4f7f" stroke-opacity="0.3" stroke-width="0.8"/>
<text transform="translate(428 70.51) scale(0.92 1)" font-size="8.6" font-weight="bold" text-anchor="end" fill="#404040">FAM133A</text>
<rect x="476" y="74.34" width="50.2" height="11" fill="#4682b4"/>
<rect x="476.4" y="74.74" width="49.4" height="10.2" fill="none" stroke="#1f4f7f" stroke-opacity="0.3" stroke-width="0.8"/>
<text transform="translate(428 82.74) scale(0.92 1)" font-size="8.6" font-weight="bold" text-anchor="end" fill="#404040">AZGP1</text>
<rect x="476" y="86.57" width="42.6" height="11" fill="#4682b4"/>
<rect x="476.4" y="86.97" width="41.8" height="10.2" fill="none" stroke="#1f4f7f" stroke-opacity="0.3" stroke-width="0.8"/>
<text transform="translate(428 94.97) scale(0.92 1)" font-size="8.6" font-weight="bold" text-anchor="end" fill="#404040">IGKV2D-29</text>
<rect x="476" y="98.8" width="40.7" height="11" fill="#4682b4"/>
<ellipse cx="518.7" cy="104.3" rx="1.1" ry="0.85" fill="#000"/>
<rect x="476.4" y="99.2" width="39.9" height="10.2" fill="none" stroke="#1f4f7f" stroke-opacity="0.3" stroke-width="0.8"/>
<text transform="translate(428 107.2) scale(0.92 1)" font-size="8.6" font-weight="bold" text-anchor="end" fill="#404040">CCND1</text>
<rect x="476" y="111.03" width="35.9" height="11" fill="#4682b4"/>
<rect x="476.4" y="111.43" width="35.1" height="10.2" fill="none" stroke="#1f4f7f" stroke-opacity="0.3" stroke-width="0.8"/>
<text transform="translate(428 119.43) scale(0.92 1)" font-size="8.6" font-weight="bold" text-anchor="end" fill="#404040">NES</text>
<rect x="476" y="123.26" width="35.3" height="11" fill="#4682b4"/>
<rect x="476.4" y="123.66" width="34.5" height="10.2" fill="none" stroke="#1f4f7f" stroke-opacity="0.3" stroke-width="0.8"/>
<text transform="translate(428 131.66) scale(0.92 1)" font-size="8.6" font-weight="bold" text-anchor="end" fill="#404040">IGKV1-9</text>
<rect x="476" y="135.49" width="34.2" height="11" fill="#4682b4"/>
<rect x="476.4" y="135.89" width="33.4" height="10.2" fill="none" stroke="#1f4f7f" stroke-opacity="0.3" stroke-width="0.8"/>
<text transform="translate(428 143.89) scale(0.92 1)" font-size="8.6" font-weight="bold" text-anchor="end" fill="#404040">IFI27</text>
<rect x="476" y="147.72" width="31" height="11" fill="#4682b4"/>
<ellipse cx="509" cy="153.22" rx="1.1" ry="0.85" fill="#000"/>
<rect x="476" y="152" width="4" height="6.72" fill="#586ab8"/>
<rect x="496" y="152" width="11" height="6.72" fill="#586ab8"/>
<rect x="480" y="152" width="16" height="6.72" fill="#4a7bb6"/>
<rect x="476.4" y="148.12" width="30.2" height="10.2" fill="none" stroke="#1f4f7f" stroke-opacity="0.3" stroke-width="0.8"/>
<text transform="translate(428 156.12) scale(0.92 1)" font-size="8.6" font-weight="bold" text-anchor="end" fill="#404040">EDNRB</text>
<rect x="476" y="159.95" width="30.1" height="11" fill="#4682b4"/>
<rect x="476" y="159.95" width="4" height="11" fill="#586ab8"/>
<rect x="496" y="159.95" width="10.1" height="11" fill="#586ab8"/>
<rect x="480" y="159.95" width="16" height="11" fill="#4a7bb6"/>
<rect x="476.4" y="160.35" width="29.3" height="10.2" fill="none" stroke="#1f4f7f" stroke-opacity="0.3" stroke-width="0.8"/>
<text transform="translate(428 168.35) scale(0.92 1)" font-size="8.6" font-weight="bold" text-anchor="end" fill="#404040">EPHA6</text>
<rect x="476" y="172.18" width="29.8" height="11" fill="#4682b4"/>
<rect x="476" y="172.18" width="4" height="11" fill="#586ab8"/>
<rect x="496" y="172.18" width="9.8" height="11" fill="#586ab8"/>
<rect x="480" y="172.18" width="16" height="11" fill="#4a7bb6"/>
<rect x="476.4" y="172.58" width="29" height="10.2" fill="none" stroke="#1f4f7f" stroke-opacity="0.3" stroke-width="0.8"/>
<text transform="translate(428 180.58) scale(0.92 1)" font-size="8.6" font-weight="bold" text-anchor="end" fill="#404040">AC104248.1</text>
<rect x="476" y="184.41" width="29.5" height="11" fill="#4682b4"/>
<ellipse cx="507.5" cy="189.91" rx="1.1" ry="0.85" fill="#000"/>
<rect x="476" y="184.41" width="4" height="11" fill="#586ab8"/>
<rect x="496" y="184.41" width="9.5" height="11" fill="#586ab8"/>
<rect x="480" y="184.41" width="16" height="11" fill="#4a7bb6"/>
<rect x="476.4" y="184.81" width="28.7" height="10.2" fill="none" stroke="#1f4f7f" stroke-opacity="0.3" stroke-width="0.8"/>
<text transform="translate(428 192.81) scale(0.92 1)" font-size="8.6" font-weight="bold" text-anchor="end" fill="#404040">NSD2</text>
<rect x="476" y="196.64" width="29.1" height="11" fill="#4682b4"/>
<ellipse cx="507.1" cy="202.14" rx="1.1" ry="0.85" fill="#000"/>
<rect x="476" y="196.64" width="4" height="11" fill="#586ab8"/>
<rect x="496" y="196.64" width="9.1" height="11" fill="#586ab8"/>
<rect x="480" y="196.64" width="16" height="11" fill="#4a7bb6"/>
<rect x="476.4" y="197.04" width="28.3" height="10.2" fill="none" stroke="#1f4f7f" stroke-opacity="0.3" stroke-width="0.8"/>
<text transform="translate(428 205.04) scale(0.92 1)" font-size="8.6" font-weight="bold" text-anchor="end" fill="#404040">IGHV1-18</text>
<rect x="476" y="208.87" width="27.9" height="11" fill="#4682b4"/>
<rect x="476" y="208.87" width="4" height="11" fill="#586ab8"/>
<rect x="496" y="208.87" width="7.9" height="11" fill="#586ab8"/>
<rect x="480" y="208.87" width="16" height="11" fill="#4a7bb6"/>
<rect x="476.4" y="209.27" width="27.1" height="10.2" fill="none" stroke="#1f4f7f" stroke-opacity="0.3" stroke-width="0.8"/>
<text transform="translate(428 217.27) scale(0.92 1)" font-size="8.6" font-weight="bold" text-anchor="end" fill="#404040">NDNF</text>
<rect x="476" y="221.1" width="27.9" height="11" fill="#4682b4"/>
<rect x="476" y="221.1" width="4" height="11" fill="#586ab8"/>
<rect x="496" y="221.1" width="7.9" height="11" fill="#586ab8"/>
<rect x="480" y="221.1" width="16" height="11" fill="#4a7bb6"/>
<rect x="476.4" y="221.5" width="27.1" height="10.2" fill="none" stroke="#1f4f7f" stroke-opacity="0.3" stroke-width="0.8"/>
<text transform="translate(428 229.5) scale(0.92 1)" font-size="8.6" font-weight="bold" text-anchor="end" fill="#404040">NEB</text>
<rect x="476" y="233.33" width="26.7" height="11" fill="#4682b4"/>
<rect x="476" y="233.33" width="4" height="11" fill="#586ab8"/>
<rect x="496" y="233.33" width="6.7" height="11" fill="#586ab8"/>
<rect x="480" y="233.33" width="16" height="11" fill="#4a7bb6"/>
<rect x="476.4" y="233.73" width="25.9" height="10.2" fill="none" stroke="#1f4f7f" stroke-opacity="0.3" stroke-width="0.8"/>
<text transform="translate(428 241.73) scale(0.92 1)" font-size="8.6" font-weight="bold" text-anchor="end" fill="#404040">PLOD2</text>
<rect x="448.9" y="245.56" width="27.1" height="11" fill="#ff0000"/>
<ellipse cx="447.1" cy="251.06" rx="1.1" ry="0.85" fill="#000"/>
<rect x="464" y="245.56" width="12" height="11" fill="#d01800"/>
<rect x="448.9" y="245.56" width="27.1" height="2.04" fill="#6f4c00"/>
<text transform="translate(428 253.96) scale(0.92 1)" font-size="8.6" font-weight="bold" text-anchor="end" fill="#404040">IGHA2</text>
<rect x="443.1" y="257.79" width="32.9" height="11" fill="#ff0000"/>
<rect x="443.1" y="257.79" width="4.9" height="11" fill="#6a4a00"/>
<rect x="448" y="257.79" width="16" height="11" fill="#e81000"/>
<rect x="464" y="257.79" width="12" height="11" fill="#c82000"/>
<text transform="translate(428 266.19) scale(0.92 1)" font-size="8.6" font-weight="bold" text-anchor="end" fill="#404040">IGLC7</text>
<rect x="434.5" y="270.02" width="41.5" height="11" fill="#ff0000"/>
<ellipse cx="432.7" cy="275.52" rx="1.1" ry="0.85" fill="#a0103a"/>
<rect x="434.5" y="270.02" width="13.5" height="11" fill="#e01000"/>
<rect x="464" y="270.02" width="12" height="11" fill="#d01800"/>
<rect x="434.5" y="280" width="41.5" height="1.02" fill="#705000"/>
<text transform="translate(428 278.42) scale(0.92 1)" font-size="8.6" font-weight="bold" text-anchor="end" fill="#404040">IGLC3</text>
<rect x="448.9" y="256.56" width="27.1" height="1.23" fill="#ffe6dc"/>
<rect x="443.1" y="268.79" width="32.9" height="1.23" fill="#ffe6dc"/>
<text transform="translate(451.15 290) scale(0.86 1)" font-size="8.3" font-weight="bold" text-anchor="middle" fill="#3c3c3c"><tspan font-size="11.0" dy="0.8">−</tspan><tspan dy="-0.8">5</tspan></text>
<text transform="translate(476 290) scale(0.86 1)" font-size="8.3" font-weight="bold" text-anchor="middle" fill="#3c3c3c">0</text>
<text transform="translate(499.75 290) scale(0.86 1)" font-size="8.3" font-weight="bold" text-anchor="middle" fill="#3c3c3c">5</text>
<text transform="translate(523.5 290) scale(0.86 1)" font-size="8.3" font-weight="bold" text-anchor="middle" fill="#3c3c3c">10</text>
<text transform="translate(487.4 298.8)" font-size="8.6" font-weight="bold" text-anchor="middle" fill="#000">Log Fold-Change</text>
<text transform="translate(487.4 32.3)" font-size="12" font-weight="bold" text-anchor="middle" fill="#000">MM</text>
<text transform="translate(381.2 159.34) rotate(-90)" font-size="8.7" font-weight="bold" text-anchor="middle" fill="#000">Gene</text>
</svg></body></html>
